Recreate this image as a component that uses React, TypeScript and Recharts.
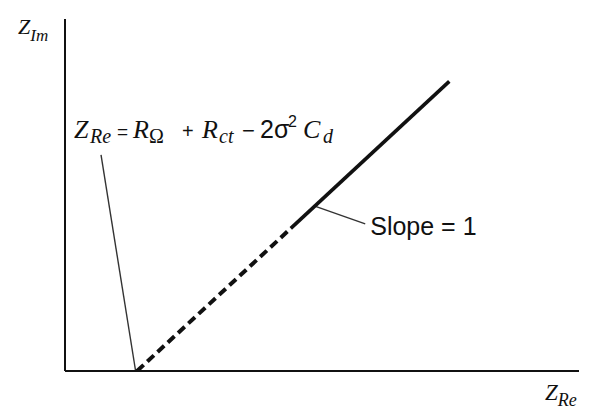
import React from 'react';
import { LineChart, Line, XAxis, YAxis, ReferenceLine, ReferenceDot } from 'recharts';

// Warburg-type straight line in a Nyquist plot (arbitrary units)
const dashedRe = [1.5, 4.7];
const dashedIm = [0, 3.2];
const solidRe = [4.7, 8.0];
const solidIm = [3.2, 6.5];

// leader lines for the two annotations
const interceptLeaderRe = [0.75, 1.47];
const interceptLeaderIm = [4.85, 0];
const slopeLeaderRe = [5.2, 6.25];
const slopeLeaderIm = [3.7, 3.3];

const xDomain = [0, 10.7];
const yDomain = [0, 7.9];

const toPoints = (re: number[], im: number[]) => re.map((x, i) => ({ x, y: im[i] }));

const dashedData = toPoints(dashedRe, dashedIm);
const solidData = toPoints(solidRe, solidIm);

const SERIF = '"Liberation Serif", "DejaVu Serif", serif';
const SANS = '"Liberation Sans", Arial, sans-serif';

function ZImLabel(props: any) {
  const vb = props.viewBox || {};
  return (
    <text x={vb.x - 46} y={vb.y + 15} fontFamily={SERIF} fontStyle="italic" fontSize={22} fill="#111">
      Z<tspan fontSize={17} dy={7}>Im</tspan>
    </text>
  );
}

function ZReLabel(props: any) {
  const vb = props.viewBox || {};
  return (
    <text x={vb.x + vb.width - 34} y={vb.y + 29} fontFamily={SERIF} fontStyle="italic" fontSize={23} fill="#111">
      Z<tspan fontSize={18} dy={6}>Re</tspan>
    </text>
  );
}

function FormulaLabel(props: any) {
  const vb = props.viewBox || {};
  const x = vb.x + (vb.width || 0) / 2 - 27;
  const y = vb.y + (vb.height || 0) / 2 - 17;
  const sub = y + 5;
  return (
    <text fontFamily={SERIF} fontSize={26} fill="#111">
      <tspan x={x} y={y} fontStyle="italic">Z</tspan>
      <tspan x={x + 16} y={sub} fontStyle="italic" fontSize={20}>Re</tspan>
      <tspan x={x + 43} y={y} fontFamily={SANS} fontSize={19}>=</tspan>
      <tspan x={x + 59} y={y} fontStyle="italic">R</tspan>
      <tspan x={x + 75} y={sub} fontSize={20}>Ω</tspan>
      <tspan x={x + 108} y={y} fontFamily={SANS} fontSize={20}>+</tspan>
      <tspan x={x + 128} y={y} fontStyle="italic">R</tspan>
      <tspan x={x + 145} y={sub} fontStyle="italic" fontSize={20}>ct</tspan>
      <tspan x={x + 168} y={y} fontFamily={SANS} fontSize={22}>−</tspan>
      <tspan x={x + 186} y={y} fontFamily={SANS} fontSize={25}>2σ</tspan>
      <tspan x={x + 214} y={y - 11} fontFamily={SANS} fontSize={16}>2</tspan>
      <tspan x={x + 229} y={y} fontStyle="italic">C</tspan>
      <tspan x={x + 249} y={sub} fontStyle="italic" fontSize={20}>d</tspan>
    </text>
  );
}

function SlopeLabel(props: any) {
  const vb = props.viewBox || {};
  const x = vb.x + (vb.width || 0) / 2 + 5;
  const y = vb.y + (vb.height || 0) / 2 + 11;
  return (
    <text x={x} y={y} fontFamily={SANS} fontSize={25} fill="#111">
      Slope = 1
    </text>
  );
}

export default function App() {
  return (
    <div style={{ position: 'absolute', left: 0, top: 0, width: 600, height: 420, background: '#fff' }}>
      <LineChart width={600} height={420} margin={{ top: 19, right: 21, left: 64, bottom: 48 }}>
        <XAxis
          type="number"
          dataKey="x"
          domain={xDomain}
          allowDataOverflow
          tick={false}
          tickLine={false}
          height={1}
          axisLine={{ stroke: '#111', strokeWidth: 2 }}
          label={<ZReLabel />}
        />
        <YAxis
          type="number"
          dataKey="y"
          domain={yDomain}
          allowDataOverflow
          tick={false}
          tickLine={false}
          width={1}
          axisLine={{ stroke: '#111', strokeWidth: 2 }}
          label={<ZImLabel />}
        />
        <ReferenceLine
          segment={toPoints(interceptLeaderRe, interceptLeaderIm)}
          stroke="#333"
          strokeWidth={1.4}
          ifOverflow="visible"
        />
        <ReferenceLine
          segment={toPoints(slopeLeaderRe, slopeLeaderIm)}
          stroke="#333"
          strokeWidth={1.4}
          ifOverflow="visible"
        />
        <Line
          data={dashedData}
          dataKey="y"
          type="linear"
          stroke="#111"
          strokeWidth={4}
          strokeDasharray="9 5"
          dot={false}
          activeDot={false}
          isAnimationActive={false}
        />
        <Line
          data={solidData}
          dataKey="y"
          type="linear"
          stroke="#111"
          strokeWidth={3.6}
          dot={false}
          activeDot={false}
          isAnimationActive={false}
        />
        <ReferenceDot
          x={interceptLeaderRe[0]}
          y={interceptLeaderIm[0]}
          r={1}
          fill="none"
          stroke="none"
          ifOverflow="visible"
          label={<FormulaLabel />}
        />
        <ReferenceDot
          x={slopeLeaderRe[1]}
          y={slopeLeaderIm[1]}
          r={1}
          fill="none"
          stroke="none"
          ifOverflow="visible"
          label={<SlopeLabel />}
        />
      </LineChart>
    </div>
  );
}
